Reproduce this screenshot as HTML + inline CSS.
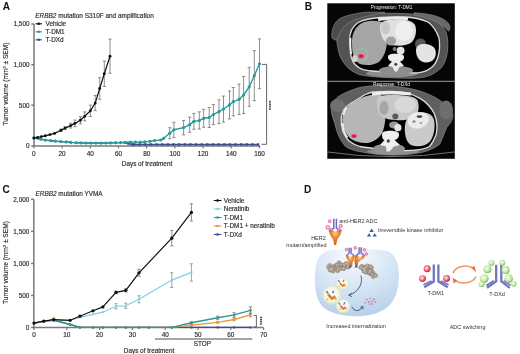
<!DOCTYPE html>
<html><head><meta charset="utf-8"><style>html,body{margin:0;padding:0;background:#fff;width:520px;height:354px;overflow:hidden}svg{display:block;filter:blur(0.3px)}text:not([fill]){stroke:#2a2a2a;stroke-width:0.15px}</style></head><body>
<svg width="520" height="354" viewBox="0 0 520 354" font-family='"Liberation Sans", Arial, sans-serif' fill="#2a2a2a">
<rect width="520" height="354" fill="#fff"/>
<text x="2.8" y="9.5" font-size="10.1" font-weight="bold" fill="#111">A</text>
<text x="304.7" y="9.6" font-size="10.1" font-weight="bold" fill="#111">B</text>
<text x="2.6" y="193.3" font-size="10.1" font-weight="bold" fill="#111">C</text>
<text x="304.0" y="192.8" font-size="10.1" font-weight="bold" fill="#111">D</text>
<path d="M34 24V147M31.3 24H34M31.3 64.7H34M31.3 105.3H34M31.3 146H34" stroke="#7a7a7a" stroke-width="1.5" fill="none"/>
<path d="M33.3 146H260.2" stroke="#7a7a7a" stroke-width="1.5" fill="none"/>
<path d="M33.9 146V148.6M62.1 146V148.6M90.3 146V148.6M118.5 146V148.6M146.7 146V148.6M174.9 146V148.6M203.1 146V148.6M231.3 146V148.6M259.5 146V148.6" stroke="#7a7a7a" stroke-width="1.2" fill="none"/>
<text x="29.5" y="148.2" text-anchor="end" font-size="6.4">0</text>
<text x="29.5" y="107.5" text-anchor="end" font-size="6.4">500</text>
<text x="29.5" y="66.9" text-anchor="end" font-size="6.4">1,000</text>
<text x="29.5" y="26.2" text-anchor="end" font-size="6.4">1,500</text>
<text x="33.9" y="156" text-anchor="middle" font-size="6.4">0</text>
<text x="62.1" y="156" text-anchor="middle" font-size="6.4">20</text>
<text x="90.3" y="156" text-anchor="middle" font-size="6.4">40</text>
<text x="118.5" y="156" text-anchor="middle" font-size="6.4">60</text>
<text x="146.7" y="156" text-anchor="middle" font-size="6.4">80</text>
<text x="174.9" y="156" text-anchor="middle" font-size="6.4">100</text>
<text x="203.1" y="156" text-anchor="middle" font-size="6.4">120</text>
<text x="231.3" y="156" text-anchor="middle" font-size="6.4">140</text>
<text x="259.5" y="156" text-anchor="middle" font-size="6.4">160</text>
<text x="147" y="165.8" text-anchor="middle" font-size="6.4">Days of treatment</text>
<text transform="translate(8.3 84) rotate(-90)" text-anchor="middle" font-size="6.6">Tumor volume (mm<tspan font-size="4" dy="-2">3</tspan><tspan dy="2"> ± SEM)</tspan></text>
<text x="35.3" y="18" font-size="6.45"><tspan font-style="italic">ERBB2</tspan> mutation S310F and amplification</text>
<path d="M35.5 23.8H42" stroke="#111" stroke-width="1.1"/>
<circle cx="38.7" cy="23.8" r="1.3" fill="#111"/>
<text x="45.5" y="26.1" font-size="6.4">Vehicle</text>
<path d="M35.5 31.8H42" stroke="#299a9a" stroke-width="1.1"/>
<circle cx="38.7" cy="31.8" r="1.3" fill="#299a9a"/>
<text x="45.5" y="34.1" font-size="6.4">T-DM1</text>
<path d="M35.5 39.8H42" stroke="#3d4e8e" stroke-width="1.1"/>
<circle cx="38.7" cy="39.8" r="1.3" fill="#3d4e8e"/>
<text x="45.5" y="42.1" font-size="6.4">T-DXd</text>
<polyline points="33.9,138.1 40.8,139.2 45.5,140.1 50.8,140.7 55.3,141.2 60.8,141.6 66.2,141.9 70.8,142.4 76.2,142.7 81.1,142.9 86.1,143.0 91.0,143.1 95.9,143.1 100.9,143.1 105.8,143.0 110.7,142.9 115.7,142.7 120.6,142.7 124.8,142.7 128.4,143.6 131.9,144.4 134.0,144.5 139.7,144.5 145.3,144.5 150.9,144.5 156.6,144.5 162.2,144.5 167.8,144.5 173.5,144.5 179.1,144.5 184.8,144.5 190.4,144.5 196.0,144.5 201.7,144.5 207.3,144.5 213.0,144.5 218.6,144.5 224.2,144.5 229.9,144.5 235.5,144.5 241.2,144.5 246.8,144.5 252.4,144.5 258.1,144.5" fill="none" stroke="#3d4e8e" stroke-width="1.3" stroke-linejoin="round"/>
<rect x="123.6" y="141.5" width="2.4" height="2.4" fill="#3d4e8e"/>
<rect x="127.2" y="142.4" width="2.4" height="2.4" fill="#3d4e8e"/>
<rect x="130.7" y="143.2" width="2.4" height="2.4" fill="#3d4e8e"/>
<rect x="132.8" y="143.3" width="2.4" height="2.4" fill="#3d4e8e"/>
<rect x="138.5" y="143.3" width="2.4" height="2.4" fill="#3d4e8e"/>
<rect x="144.1" y="143.3" width="2.4" height="2.4" fill="#3d4e8e"/>
<rect x="149.7" y="143.3" width="2.4" height="2.4" fill="#3d4e8e"/>
<rect x="155.4" y="143.3" width="2.4" height="2.4" fill="#3d4e8e"/>
<rect x="161.0" y="143.3" width="2.4" height="2.4" fill="#3d4e8e"/>
<rect x="166.7" y="143.3" width="2.4" height="2.4" fill="#3d4e8e"/>
<rect x="172.3" y="143.3" width="2.4" height="2.4" fill="#3d4e8e"/>
<rect x="177.9" y="143.3" width="2.4" height="2.4" fill="#3d4e8e"/>
<rect x="183.6" y="143.3" width="2.4" height="2.4" fill="#3d4e8e"/>
<rect x="189.2" y="143.3" width="2.4" height="2.4" fill="#3d4e8e"/>
<rect x="194.8" y="143.3" width="2.4" height="2.4" fill="#3d4e8e"/>
<rect x="200.5" y="143.3" width="2.4" height="2.4" fill="#3d4e8e"/>
<rect x="206.1" y="143.3" width="2.4" height="2.4" fill="#3d4e8e"/>
<rect x="211.8" y="143.3" width="2.4" height="2.4" fill="#3d4e8e"/>
<rect x="217.4" y="143.3" width="2.4" height="2.4" fill="#3d4e8e"/>
<rect x="223.1" y="143.3" width="2.4" height="2.4" fill="#3d4e8e"/>
<rect x="228.7" y="143.3" width="2.4" height="2.4" fill="#3d4e8e"/>
<rect x="234.3" y="143.3" width="2.4" height="2.4" fill="#3d4e8e"/>
<rect x="240.0" y="143.3" width="2.4" height="2.4" fill="#3d4e8e"/>
<rect x="245.6" y="143.3" width="2.4" height="2.4" fill="#3d4e8e"/>
<rect x="251.2" y="143.3" width="2.4" height="2.4" fill="#3d4e8e"/>
<rect x="256.9" y="143.3" width="2.4" height="2.4" fill="#3d4e8e"/>
<path d="M169.8 127.7V138.8M168.2 127.7h3.2M168.2 138.8h3.2" stroke="#6a6a6a" stroke-width="0.75" fill="none"/>
<path d="M173.9 122.3V137.4M172.3 122.3h3.2M172.3 137.4h3.2" stroke="#6a6a6a" stroke-width="0.75" fill="none"/>
<path d="M183.6 120.4V134.9M182.0 120.4h3.2M182.0 134.9h3.2" stroke="#6a6a6a" stroke-width="0.75" fill="none"/>
<path d="M189.7 117.1V132.3M188.1 117.1h3.2M188.1 132.3h3.2" stroke="#6a6a6a" stroke-width="0.75" fill="none"/>
<path d="M193.9 113.4V129.3M192.3 113.4h3.2M192.3 129.3h3.2" stroke="#6a6a6a" stroke-width="0.75" fill="none"/>
<path d="M199.3 111.9V129.0M197.7 111.9h3.2M197.7 129.0h3.2" stroke="#6a6a6a" stroke-width="0.75" fill="none"/>
<path d="M203.7 109.3V127.2M202.1 109.3h3.2M202.1 127.2h3.2" stroke="#6a6a6a" stroke-width="0.75" fill="none"/>
<path d="M209.2 107.5V127.5M207.6 107.5h3.2M207.6 127.5h3.2" stroke="#6a6a6a" stroke-width="0.75" fill="none"/>
<path d="M213.4 104.6V124.6M211.8 104.6h3.2M211.8 124.6h3.2" stroke="#6a6a6a" stroke-width="0.75" fill="none"/>
<path d="M219.0 99.8V123.6M217.4 99.8h3.2M217.4 123.6h3.2" stroke="#6a6a6a" stroke-width="0.75" fill="none"/>
<path d="M223.5 96.0V122.0M221.9 96.0h3.2M221.9 122.0h3.2" stroke="#6a6a6a" stroke-width="0.75" fill="none"/>
<path d="M229.5 91.0V118.9M227.9 91.0h3.2M227.9 118.9h3.2" stroke="#6a6a6a" stroke-width="0.75" fill="none"/>
<path d="M233.3 87.5V115.9M231.7 87.5h3.2M231.7 115.9h3.2" stroke="#6a6a6a" stroke-width="0.75" fill="none"/>
<path d="M239.1 84.1V114.5M237.5 84.1h3.2M237.5 114.5h3.2" stroke="#6a6a6a" stroke-width="0.75" fill="none"/>
<path d="M243.6 76.4V113.6M242.0 76.4h3.2M242.0 113.6h3.2" stroke="#6a6a6a" stroke-width="0.75" fill="none"/>
<path d="M249.2 67.3V106.3M247.6 67.3h3.2M247.6 106.3h3.2" stroke="#6a6a6a" stroke-width="0.75" fill="none"/>
<path d="M254.3 50.6V100.7M252.7 50.6h3.2M252.7 100.7h3.2" stroke="#6a6a6a" stroke-width="0.75" fill="none"/>
<path d="M259.5 38.9V88.7M257.9 38.9h3.2M257.9 88.7h3.2" stroke="#6a6a6a" stroke-width="0.75" fill="none"/>
<polyline points="33.9,138.1 40.8,139.2 45.5,140.1 50.8,140.7 55.3,141.2 60.8,141.6 66.2,141.9 70.8,142.4 76.2,142.7 81.1,142.9 86.1,143.0 91.0,143.1 95.9,143.1 100.9,143.1 105.8,143.0 110.7,142.9 115.7,142.7 120.6,142.6 125.5,142.3 130.5,142.1 135.4,142.1 140.4,142.2 144.6,141.9 149.9,141.3 154.7,140.6 160.8,140.0 163.6,138.3 169.8,133.2 173.9,129.8 183.6,127.6 189.7,124.7 193.9,121.4 199.3,120.5 203.7,118.3 209.2,117.5 213.4,114.6 219.0,111.7 223.5,109.0 229.5,104.9 233.3,101.7 239.1,99.3 243.6,95.0 249.2,86.8 254.3,75.7 259.5,63.8" fill="none" stroke="#299a9a" stroke-width="1.4" stroke-linejoin="round"/>
<circle cx="33.9" cy="138.1" r="1.6" fill="#299a9a"/>
<circle cx="40.8" cy="139.2" r="1.6" fill="#299a9a"/>
<circle cx="45.5" cy="140.1" r="1.6" fill="#299a9a"/>
<circle cx="50.8" cy="140.7" r="1.6" fill="#299a9a"/>
<circle cx="55.3" cy="141.2" r="1.6" fill="#299a9a"/>
<circle cx="60.8" cy="141.6" r="1.6" fill="#299a9a"/>
<circle cx="66.2" cy="141.9" r="1.6" fill="#299a9a"/>
<circle cx="70.8" cy="142.4" r="1.6" fill="#299a9a"/>
<circle cx="76.2" cy="142.7" r="1.6" fill="#299a9a"/>
<circle cx="81.1" cy="142.9" r="1.6" fill="#299a9a"/>
<circle cx="86.1" cy="143.0" r="1.6" fill="#299a9a"/>
<circle cx="91.0" cy="143.1" r="1.6" fill="#299a9a"/>
<circle cx="95.9" cy="143.1" r="1.6" fill="#299a9a"/>
<circle cx="100.9" cy="143.1" r="1.6" fill="#299a9a"/>
<circle cx="105.8" cy="143.0" r="1.6" fill="#299a9a"/>
<circle cx="110.7" cy="142.9" r="1.6" fill="#299a9a"/>
<circle cx="115.7" cy="142.7" r="1.6" fill="#299a9a"/>
<circle cx="120.6" cy="142.6" r="1.6" fill="#299a9a"/>
<circle cx="125.5" cy="142.3" r="1.6" fill="#299a9a"/>
<circle cx="130.5" cy="142.1" r="1.6" fill="#299a9a"/>
<circle cx="135.4" cy="142.1" r="1.6" fill="#299a9a"/>
<circle cx="140.4" cy="142.2" r="1.6" fill="#299a9a"/>
<circle cx="144.6" cy="141.9" r="1.6" fill="#299a9a"/>
<circle cx="149.9" cy="141.3" r="1.6" fill="#299a9a"/>
<circle cx="154.7" cy="140.6" r="1.6" fill="#299a9a"/>
<circle cx="160.8" cy="140.0" r="1.6" fill="#299a9a"/>
<circle cx="163.6" cy="138.3" r="1.6" fill="#299a9a"/>
<circle cx="169.8" cy="133.2" r="1.6" fill="#299a9a"/>
<circle cx="173.9" cy="129.8" r="1.6" fill="#299a9a"/>
<circle cx="183.6" cy="127.6" r="1.6" fill="#299a9a"/>
<circle cx="189.7" cy="124.7" r="1.6" fill="#299a9a"/>
<circle cx="193.9" cy="121.4" r="1.6" fill="#299a9a"/>
<circle cx="199.3" cy="120.5" r="1.6" fill="#299a9a"/>
<circle cx="203.7" cy="118.3" r="1.6" fill="#299a9a"/>
<circle cx="209.2" cy="117.5" r="1.6" fill="#299a9a"/>
<circle cx="213.4" cy="114.6" r="1.6" fill="#299a9a"/>
<circle cx="219.0" cy="111.7" r="1.6" fill="#299a9a"/>
<circle cx="223.5" cy="109.0" r="1.6" fill="#299a9a"/>
<circle cx="229.5" cy="104.9" r="1.6" fill="#299a9a"/>
<circle cx="233.3" cy="101.7" r="1.6" fill="#299a9a"/>
<circle cx="239.1" cy="99.3" r="1.6" fill="#299a9a"/>
<circle cx="243.6" cy="95.0" r="1.6" fill="#299a9a"/>
<circle cx="249.2" cy="86.8" r="1.6" fill="#299a9a"/>
<circle cx="254.3" cy="75.7" r="1.6" fill="#299a9a"/>
<circle cx="259.5" cy="63.8" r="1.6" fill="#299a9a"/>
<path d="M61.0 129.2V131.4M59.4 129.2h3.2M59.4 131.4h3.2" stroke="#6a6a6a" stroke-width="0.75" fill="none"/>
<path d="M65.1 126.7V129.6M63.5 126.7h3.2M63.5 129.6h3.2" stroke="#6a6a6a" stroke-width="0.75" fill="none"/>
<path d="M70.7 123.2V128.0M69.1 123.2h3.2M69.1 128.0h3.2" stroke="#6a6a6a" stroke-width="0.75" fill="none"/>
<path d="M74.9 120.1V126.7M73.3 120.1h3.2M73.3 126.7h3.2" stroke="#6a6a6a" stroke-width="0.75" fill="none"/>
<path d="M80.4 116.6V123.9M78.8 116.6h3.2M78.8 123.9h3.2" stroke="#6a6a6a" stroke-width="0.75" fill="none"/>
<path d="M84.7 111.9V120.8M83.1 111.9h3.2M83.1 120.8h3.2" stroke="#6a6a6a" stroke-width="0.75" fill="none"/>
<path d="M90.4 105.1V116.5M88.8 105.1h3.2M88.8 116.5h3.2" stroke="#6a6a6a" stroke-width="0.75" fill="none"/>
<path d="M95.2 95.4V110.7M93.6 95.4h3.2M93.6 110.7h3.2" stroke="#6a6a6a" stroke-width="0.75" fill="none"/>
<path d="M99.7 77.7V99.3M98.1 77.7h3.2M98.1 99.3h3.2" stroke="#6a6a6a" stroke-width="0.75" fill="none"/>
<path d="M104.3 61.1V86.5M102.7 61.1h3.2M102.7 86.5h3.2" stroke="#6a6a6a" stroke-width="0.75" fill="none"/>
<path d="M110.0 39.1V73.2M108.4 39.1h3.2M108.4 73.2h3.2" stroke="#6a6a6a" stroke-width="0.75" fill="none"/>
<polyline points="33.9,138.0 37.6,137.5 41.4,136.6 45.3,135.8 50.0,134.6 54.6,133.4 61.0,130.3 65.1,128.1 70.7,125.6 74.9,123.4 80.4,120.2 84.7,116.3 90.4,110.8 95.2,103.1 99.7,88.5 104.3,73.8 110.0,56.2" fill="none" stroke="#111" stroke-width="1.2" stroke-linejoin="round"/>
<circle cx="33.9" cy="138.0" r="1.45" fill="#111"/>
<circle cx="37.6" cy="137.5" r="1.45" fill="#111"/>
<circle cx="41.4" cy="136.6" r="1.45" fill="#111"/>
<circle cx="45.3" cy="135.8" r="1.45" fill="#111"/>
<circle cx="50.0" cy="134.6" r="1.45" fill="#111"/>
<circle cx="54.6" cy="133.4" r="1.45" fill="#111"/>
<circle cx="61.0" cy="130.3" r="1.45" fill="#111"/>
<circle cx="65.1" cy="128.1" r="1.45" fill="#111"/>
<circle cx="70.7" cy="125.6" r="1.45" fill="#111"/>
<circle cx="74.9" cy="123.4" r="1.45" fill="#111"/>
<circle cx="80.4" cy="120.2" r="1.45" fill="#111"/>
<circle cx="84.7" cy="116.3" r="1.45" fill="#111"/>
<circle cx="90.4" cy="110.8" r="1.45" fill="#111"/>
<circle cx="95.2" cy="103.1" r="1.45" fill="#111"/>
<circle cx="99.7" cy="88.5" r="1.45" fill="#111"/>
<circle cx="104.3" cy="73.8" r="1.45" fill="#111"/>
<circle cx="110.0" cy="56.2" r="1.45" fill="#111"/>
<path d="M262 64.4H266.6V144.3H261.5" stroke="#555" stroke-width="0.9" fill="none"/>
<text transform="translate(266.6 105.3) rotate(90)" text-anchor="middle" font-size="6.2" font-weight="bold" fill="#222">****</text>
<path d="M33.8 199.3V328.2M31.1 199.3H33.8M31.1 231.3H33.8M31.1 263.4H33.8M31.1 295.4H33.8M31.1 327.4H33.8" stroke="#7a7a7a" stroke-width="1.5" fill="none"/>
<path d="M33.1 327.4H263.5" stroke="#7a7a7a" stroke-width="1.5" fill="none"/>
<path d="M34.0 327.4V330M66.8 327.4V330M99.6 327.4V330M132.4 327.4V330M165.2 327.4V330M198.0 327.4V330M230.8 327.4V330M263.6 327.4V330" stroke="#7a7a7a" stroke-width="1.2" fill="none"/>
<text x="29.3" y="329.6" text-anchor="end" font-size="6.4">0</text>
<text x="29.3" y="297.6" text-anchor="end" font-size="6.4">500</text>
<text x="29.3" y="265.6" text-anchor="end" font-size="6.4">1,000</text>
<text x="29.3" y="233.6" text-anchor="end" font-size="6.4">1,500</text>
<text x="29.3" y="201.6" text-anchor="end" font-size="6.4">2,000</text>
<text x="34.0" y="337" text-anchor="middle" font-size="6.4">0</text>
<text x="66.8" y="337" text-anchor="middle" font-size="6.4">10</text>
<text x="99.6" y="337" text-anchor="middle" font-size="6.4">20</text>
<text x="132.4" y="337" text-anchor="middle" font-size="6.4">30</text>
<text x="165.2" y="337" text-anchor="middle" font-size="6.4">40</text>
<text x="198.0" y="337" text-anchor="middle" font-size="6.4">50</text>
<text x="230.8" y="337" text-anchor="middle" font-size="6.4">60</text>
<text x="263.6" y="337" text-anchor="middle" font-size="6.4">70</text>
<text x="149" y="352.5" text-anchor="middle" font-size="6.4">Days of treatment</text>
<path d="M155 339.1H252.3" stroke="#888" stroke-width="1.5"/>
<text x="202.3" y="346.1" text-anchor="middle" font-size="6.4">STOP</text>
<text transform="translate(8.4 262.6) rotate(-90)" text-anchor="middle" font-size="6.6">Tumor volume (mm<tspan font-size="4" dy="-2">3</tspan><tspan dy="2"> ± SEM)</tspan></text>
<text x="35.6" y="196.2" font-size="6.4"><tspan font-style="italic">ERBB2</tspan> mutation YVMA</text>
<path d="M213.8 200.5H221.5" stroke="#111" stroke-width="1.1"/>
<circle cx="217.6" cy="200.5" r="1.3" fill="#111"/>
<text x="223.8" y="202.8" font-size="6.4">Vehicle</text>
<path d="M213.8 209.0H221.5" stroke="#86cfe0" stroke-width="1.1"/>
<circle cx="217.6" cy="209.0" r="1.3" fill="#86cfe0"/>
<text x="223.8" y="211.3" font-size="6.4">Neratinib</text>
<path d="M213.8 217.5H221.5" stroke="#299a9a" stroke-width="1.1"/>
<circle cx="217.6" cy="217.5" r="1.3" fill="#299a9a"/>
<text x="223.8" y="219.8" font-size="6.4">T-DM1</text>
<path d="M213.8 226.0H221.5" stroke="#ea9a3c" stroke-width="1.1"/>
<circle cx="217.6" cy="226.0" r="1.3" fill="#ea9a3c"/>
<text x="223.8" y="228.3" font-size="6.4">T-DM1 + neratinib</text>
<path d="M213.8 234.5H221.5" stroke="#3d4e8e" stroke-width="1.1"/>
<circle cx="217.6" cy="234.5" r="1.3" fill="#3d4e8e"/>
<text x="223.8" y="236.8" font-size="6.4">T-DXd</text>
<polyline points="34.0,323.1 43.8,321.2 53.7,320.2 70.1,324.4 79.9,327.4 93.0,327.4 102.9,327.4 116.0,327.4 125.8,327.4 139.0,327.4 148.8,327.4 171.8,327.4 191.4,327.4 217.7,327.4 234.1,327.4 250.5,327.4" fill="none" stroke="#3d4e8e" stroke-width="1.3" stroke-linejoin="round"/>
<circle cx="34.0" cy="323.1" r="1.2" fill="#3d4e8e"/>
<circle cx="43.8" cy="321.2" r="1.2" fill="#3d4e8e"/>
<circle cx="53.7" cy="320.2" r="1.2" fill="#3d4e8e"/>
<circle cx="70.1" cy="324.4" r="1.2" fill="#3d4e8e"/>
<circle cx="79.9" cy="327.4" r="1.2" fill="#3d4e8e"/>
<circle cx="93.0" cy="327.4" r="1.2" fill="#3d4e8e"/>
<circle cx="102.9" cy="327.4" r="1.2" fill="#3d4e8e"/>
<circle cx="116.0" cy="327.4" r="1.2" fill="#3d4e8e"/>
<circle cx="125.8" cy="327.4" r="1.2" fill="#3d4e8e"/>
<circle cx="139.0" cy="327.4" r="1.2" fill="#3d4e8e"/>
<circle cx="148.8" cy="327.4" r="1.2" fill="#3d4e8e"/>
<circle cx="171.8" cy="327.4" r="1.2" fill="#3d4e8e"/>
<circle cx="191.4" cy="327.4" r="1.2" fill="#3d4e8e"/>
<circle cx="217.7" cy="327.4" r="1.2" fill="#3d4e8e"/>
<circle cx="234.1" cy="327.4" r="1.2" fill="#3d4e8e"/>
<circle cx="250.5" cy="327.4" r="1.2" fill="#3d4e8e"/>
<path d="M191.4 324.5V325.7M189.8 324.5h3.2M189.8 325.7h3.2" stroke="#b07a40" stroke-width="0.75" fill="none"/>
<path d="M217.7 321.3V323.2M216.1 321.3h3.2M216.1 323.2h3.2" stroke="#b07a40" stroke-width="0.75" fill="none"/>
<path d="M234.1 318.2V320.8M232.5 318.2h3.2M232.5 320.8h3.2" stroke="#b07a40" stroke-width="0.75" fill="none"/>
<path d="M250.5 313.0V316.8M248.9 313.0h3.2M248.9 316.8h3.2" stroke="#b07a40" stroke-width="0.75" fill="none"/>
<circle cx="53.7" cy="318.4" r="2.2" fill="#f6d890"/>
<polyline points="34.0,323.1 43.8,321.2 53.7,320.2 70.1,324.5 79.9,327.4 93.0,327.4 102.9,327.4 116.0,327.4 125.8,327.4 139.0,327.4 148.8,327.4 171.8,327.4 191.4,325.1 217.7,322.3 234.1,319.5 250.5,314.9" fill="none" stroke="#ea9a3c" stroke-width="1.3" stroke-linejoin="round"/>
<circle cx="34.0" cy="323.1" r="1.2" fill="#ea9a3c"/>
<circle cx="43.8" cy="321.2" r="1.2" fill="#ea9a3c"/>
<circle cx="53.7" cy="320.2" r="1.2" fill="#ea9a3c"/>
<circle cx="70.1" cy="324.5" r="1.2" fill="#ea9a3c"/>
<circle cx="79.9" cy="327.4" r="1.2" fill="#ea9a3c"/>
<circle cx="93.0" cy="327.4" r="1.2" fill="#ea9a3c"/>
<circle cx="102.9" cy="327.4" r="1.2" fill="#ea9a3c"/>
<circle cx="116.0" cy="327.4" r="1.2" fill="#ea9a3c"/>
<circle cx="125.8" cy="327.4" r="1.2" fill="#ea9a3c"/>
<circle cx="139.0" cy="327.4" r="1.2" fill="#ea9a3c"/>
<circle cx="148.8" cy="327.4" r="1.2" fill="#ea9a3c"/>
<circle cx="171.8" cy="327.4" r="1.2" fill="#ea9a3c"/>
<circle cx="191.4" cy="325.1" r="1.2" fill="#ea9a3c"/>
<circle cx="217.7" cy="322.3" r="1.2" fill="#ea9a3c"/>
<circle cx="234.1" cy="319.5" r="1.2" fill="#ea9a3c"/>
<circle cx="250.5" cy="314.9" r="1.2" fill="#ea9a3c"/>
<path d="M191.4 321.8V323.8M189.8 321.8h3.2M189.8 323.8h3.2" stroke="#6a6a6a" stroke-width="0.75" fill="none"/>
<path d="M217.7 316.1V319.3M216.1 316.1h3.2M216.1 319.3h3.2" stroke="#6a6a6a" stroke-width="0.75" fill="none"/>
<path d="M234.1 312.7V317.2M232.5 312.7h3.2M232.5 317.2h3.2" stroke="#6a6a6a" stroke-width="0.75" fill="none"/>
<path d="M250.5 306.8V313.8M248.9 306.8h3.2M248.9 313.8h3.2" stroke="#6a6a6a" stroke-width="0.75" fill="none"/>
<polyline points="34.0,323.1 43.8,321.2 53.7,320.2 70.1,324.5 79.9,327.4 93.0,327.4 102.9,327.4 116.0,327.4 125.8,327.4 139.0,327.4 148.8,327.4 171.8,327.4 191.4,322.8 217.7,317.7 234.1,314.9 250.5,310.3" fill="none" stroke="#299a9a" stroke-width="1.4" stroke-linejoin="round"/>
<circle cx="34.0" cy="323.1" r="1.25" fill="#299a9a"/>
<circle cx="43.8" cy="321.2" r="1.25" fill="#299a9a"/>
<circle cx="53.7" cy="320.2" r="1.25" fill="#299a9a"/>
<circle cx="70.1" cy="324.5" r="1.25" fill="#299a9a"/>
<circle cx="79.9" cy="327.4" r="1.25" fill="#299a9a"/>
<circle cx="93.0" cy="327.4" r="1.25" fill="#299a9a"/>
<circle cx="102.9" cy="327.4" r="1.25" fill="#299a9a"/>
<circle cx="116.0" cy="327.4" r="1.25" fill="#299a9a"/>
<circle cx="125.8" cy="327.4" r="1.25" fill="#299a9a"/>
<circle cx="139.0" cy="327.4" r="1.25" fill="#299a9a"/>
<circle cx="148.8" cy="327.4" r="1.25" fill="#299a9a"/>
<circle cx="171.8" cy="327.4" r="1.25" fill="#299a9a"/>
<circle cx="191.4" cy="322.8" r="1.25" fill="#299a9a"/>
<circle cx="217.7" cy="317.7" r="1.25" fill="#299a9a"/>
<circle cx="234.1" cy="314.9" r="1.25" fill="#299a9a"/>
<circle cx="250.5" cy="310.3" r="1.25" fill="#299a9a"/>
<path d="M116.0 303.7V308.8M114.4 303.7h3.2M114.4 308.8h3.2" stroke="#6f8c98" stroke-width="0.75" fill="none"/>
<path d="M125.8 303.2V308.3M124.2 303.2h3.2M124.2 308.3h3.2" stroke="#6f8c98" stroke-width="0.75" fill="none"/>
<path d="M139.0 295.8V302.8M137.4 295.8h3.2M137.4 302.8h3.2" stroke="#6f8c98" stroke-width="0.75" fill="none"/>
<path d="M171.8 272.7V287.5M170.2 272.7h3.2M170.2 287.5h3.2" stroke="#6f8c98" stroke-width="0.75" fill="none"/>
<path d="M191.4 263.8V281.1M189.8 263.8h3.2M189.8 281.1h3.2" stroke="#6f8c98" stroke-width="0.75" fill="none"/>
<polyline points="34.0,323.1 43.8,321.2 53.7,320.0 70.1,320.3 79.9,317.3 93.0,314.3 102.9,312.2 116.0,306.2 125.8,305.8 139.0,299.3 171.8,280.1 191.4,272.4" fill="none" stroke="#86cfe0" stroke-width="1.2" stroke-linejoin="round"/>
<circle cx="34.0" cy="323.1" r="1.1" fill="#86cfe0"/>
<circle cx="43.8" cy="321.2" r="1.1" fill="#86cfe0"/>
<circle cx="53.7" cy="320.0" r="1.1" fill="#86cfe0"/>
<circle cx="70.1" cy="320.3" r="1.1" fill="#86cfe0"/>
<circle cx="79.9" cy="317.3" r="1.1" fill="#86cfe0"/>
<circle cx="93.0" cy="314.3" r="1.1" fill="#86cfe0"/>
<circle cx="102.9" cy="312.2" r="1.1" fill="#86cfe0"/>
<circle cx="116.0" cy="306.2" r="1.1" fill="#86cfe0"/>
<circle cx="125.8" cy="305.8" r="1.1" fill="#86cfe0"/>
<circle cx="139.0" cy="299.3" r="1.1" fill="#86cfe0"/>
<circle cx="171.8" cy="280.1" r="1.1" fill="#86cfe0"/>
<circle cx="191.4" cy="272.4" r="1.1" fill="#86cfe0"/>
<path d="M116.0 291.1V293.7M114.4 291.1h3.2M114.4 293.7h3.2" stroke="#6a6a6a" stroke-width="0.75" fill="none"/>
<path d="M125.8 288.7V291.9M124.2 288.7h3.2M124.2 291.9h3.2" stroke="#6a6a6a" stroke-width="0.75" fill="none"/>
<path d="M139.0 269.3V276.3M137.4 269.3h3.2M137.4 276.3h3.2" stroke="#6a6a6a" stroke-width="0.75" fill="none"/>
<path d="M171.8 230.5V245.9M170.2 230.5h3.2M170.2 245.9h3.2" stroke="#6a6a6a" stroke-width="0.75" fill="none"/>
<path d="M191.4 203.8V221.0M189.8 203.8h3.2M189.8 221.0h3.2" stroke="#6a6a6a" stroke-width="0.75" fill="none"/>
<polyline points="34.0,323.1 43.8,321.2 53.7,319.6 70.1,320.3 79.9,316.2 93.0,310.8 102.9,306.9 116.0,292.4 125.8,290.3 139.0,272.8 171.8,238.2 191.4,212.4" fill="none" stroke="#111" stroke-width="1.2" stroke-linejoin="round"/>
<circle cx="34.0" cy="323.1" r="1.65" fill="#111"/>
<circle cx="43.8" cy="321.2" r="1.65" fill="#111"/>
<circle cx="53.7" cy="319.6" r="1.65" fill="#111"/>
<circle cx="70.1" cy="320.3" r="1.65" fill="#111"/>
<circle cx="79.9" cy="316.2" r="1.65" fill="#111"/>
<circle cx="93.0" cy="310.8" r="1.65" fill="#111"/>
<circle cx="102.9" cy="306.9" r="1.65" fill="#111"/>
<circle cx="116.0" cy="292.4" r="1.65" fill="#111"/>
<circle cx="125.8" cy="290.3" r="1.65" fill="#111"/>
<circle cx="139.0" cy="272.8" r="1.65" fill="#111"/>
<circle cx="171.8" cy="238.2" r="1.65" fill="#111"/>
<circle cx="191.4" cy="212.4" r="1.65" fill="#111"/>
<path d="M253.5 315.4H256.4V326.9H253.5" stroke="#555" stroke-width="0.9" fill="none"/>
<text transform="translate(257.9 320.6) rotate(90)" text-anchor="middle" font-size="5.6" font-weight="bold" fill="#222">****</text>
<defs><clipPath id="ct1"><rect x="327.3" y="3.3" width="127.5" height="77.5"/></clipPath><clipPath id="ct2"><rect x="327.3" y="81.9" width="127.5" height="76.9"/></clipPath><filter id="bl" x="-5%" y="-5%" width="110%" height="110%"><feGaussianBlur stdDeviation="0.55"/></filter><radialGradient id="lesg" cx="0.45" cy="0.55" r="0.55"><stop offset="0" stop-color="#b8103c"/><stop offset="0.55" stop-color="#d8305a"/><stop offset="1" stop-color="#f090a8"/></radialGradient><filter id="bl2" x="-50%" y="-50%" width="200%" height="200%"><feGaussianBlur stdDeviation="1.2"/></filter></defs>
<rect x="327.3" y="3.3" width="127.5" height="155.5" fill="#060606"/>
<g clip-path="url(#ct1)"><g filter="url(#bl)"><path d="M336.9,41.6 C336,36 337,30 341,25 C347,19 356,15.5 366,14 C375,13 385,13.3 392,13.3 C405,13.2 418,14 428,17 C436,20 443,25 446,32 C448,37 448,45 447.6,50 C447,57 445,63 441.7,67.3 C437,72 431.8,75.3 425,77 C416,78.6 405,78.4 392,77.8 C380,77.4 367,76.5 360,74.8 C352,72 348,68 345.8,65.4 C342,61 340.5,57 339.8,55.5 C338,50 337.5,46 336.9,41.6 Z" fill="#525252" stroke="#9a9a9a" stroke-width="0.6"/><path d="M332,38 C331,30 334,22 340,18.5 C347,15 355,13.5 366,12.2 C372,12 378,12 385,12.4 C375,14.5 362,16.5 352,21 C344,25.5 339.5,31 337.2,40 C335.5,40.2 333.2,39.6 332,38 Z" fill="#4c4c4c" stroke="#8a8a8a" stroke-width="0.6"/><path d="M414,12.8 C425,13.2 435,15 442,18.5 C447,21 450.2,24.5 450,27.5 C449.8,29.5 449.3,30.8 448.4,31.2 C446,28 442,25 437,22.5 C430,19 422,16.5 414,15.2 Z" fill="#686868" stroke="#8a8a8a" stroke-width="0.6"/><ellipse cx="392" cy="73.5" rx="26" ry="4" fill="#8c8c8c"/><path d="M349.7,40 C349.5,32 353,26 358,22.5 C364,19.5 372,18 380,17.5 C388,17 396,16.8 405,17 C414,17.5 422,19.5 428,22 C433,25.5 436.8,31.8 439,38 C440,44 439.5,52 437.8,57.5 C436,63 433.5,66 431.8,67.3 C428,70.5 424,72.3 418,72.8 C410,73 400,72.6 392,72.2 C380,71.8 370,71 363,69.6 C356,67.2 352.5,62 351.2,57 C350.2,52 349.8,46 349.7,40 Z" fill="#060606" stroke="#dedede" stroke-width="1.3"/><path d="M352,40 C352.5,31 357,25 364,22 C371,20 379,20.3 384,23 C387,27 387.5,34 387,42 C386.5,50 384,57 379,62 C374,65.3 366,66 360,64 C355.5,61.5 353,56 352.3,50 C352,46 352,43 352,40 Z" fill="#a5a5a5"/><path d="M350.6,38 C350.4,44 350.6,50 351.3,54" stroke="#f2f2f2" stroke-width="1.6" fill="none"/><path d="M380,26 C381,21 387,19.5 395,19.3 C404,19 412,20.5 415,25 C417,30 416,37 412,42 C408,45.5 401,46 395,45.5 C389,45 384,42 382,37 C380.5,33 379.8,29 380,26 Z" fill="#e0e0e0"/><ellipse cx="385.5" cy="28" rx="4.5" ry="6.5" fill="#c8c8c8"/><ellipse cx="404" cy="31" rx="9" ry="10" fill="#efefef"/><ellipse cx="391" cy="41" rx="5" ry="4.5" fill="#a2a2a2"/><path d="M378,19.6 C386,18 398,17.6 408,18.8" stroke="#ececec" stroke-width="3" fill="none"/><circle cx="394.6" cy="49" r="2" fill="#7e7e7e"/><circle cx="400.6" cy="50.6" r="3.9" fill="#e4e4e4"/><ellipse cx="396" cy="70.5" rx="17" ry="4.5" fill="#8e8e8e"/><path d="M388,57 C388,54.2 392,53.8 396,53.8 C400,53.8 404,54.2 404,57 C404,60 402,61 400,61.5 L404,66 L399.5,67 L397.2,71.5 L394.8,71.5 L392.5,67 L388,66 L392,61.5 C390,61 388,60 388,57 Z" fill="#ededed"/><circle cx="395.8" cy="64.2" r="1.5" fill="#444"/><ellipse cx="420.5" cy="44" rx="5.5" ry="5.5" fill="#565656"/><path d="M416,50.5 C416,45.5 420,43.8 425,44 C431,44.4 435.8,47 435.8,53 C435.8,59 432,62.4 426,62.4 C420,62.4 416,57.5 416,50.5 Z" fill="#e4e4e4"/><ellipse cx="355" cy="58.5" rx="2.8" ry="3.5" fill="#d4d4d4"/><circle cx="361.7" cy="54.8" r="6.2" fill="none" stroke="#98d0ae" stroke-width="1.3" opacity="0.45"/><ellipse cx="361.3" cy="55.9" rx="3.6" ry="2.6" fill="url(#lesg)"/></g></g>
<text x="391.5" y="8.9" text-anchor="middle" font-size="4.7" fill="#f2f2f2">Progression: T-DM1</text>
<g clip-path="url(#ct2)"><g filter="url(#bl)"><path d="M326,151.8 Q391,161.5 456,151.8" stroke="#8a8a8a" stroke-width="0.8" fill="none"/><path d="M331,108 C332.5,102 335,98.5 340,95.5 C345,92.5 351.4,90.2 357,88.2 C362,86.8 368,86 376.8,85.7 C382,85.6 387,86 392,86.3 C398,86.6 404,87.4 409.6,88.5 C415,89.6 420,90.8 424,92.4 C430,94.6 435,97 439.7,100.3 C444,103.2 448,106 450.2,108.8 C452,111.5 453,114 452.8,116.6 C452.5,120 450,124 447,127 C445,131 442,140 439.7,144.2 C435,148 429.2,150.7 420,152.8 C409.6,154.4 400,155.2 392,155.2 C380,155 368,153.4 357.7,151.2 C351,149.5 347,148 345,146 C341,141 337.4,134.5 336,128 C334.8,122 331,115 331,108 Z" fill="#5e5e5e" stroke="#9a9a9a" stroke-width="0.6"/><ellipse cx="337.5" cy="105.5" rx="7.5" ry="6.5" fill="#707070"/><ellipse cx="446" cy="110" rx="7" ry="9.5" fill="#6e6e6e"/><ellipse cx="393" cy="151.5" rx="26" ry="3.5" fill="#8c8c8c"/><path d="M341.2,118 C342,112 344,109 346.3,106.7 C349,104 351,103 354,101.6 C358,99 361,97 364,95.2 C368,93.5 370,92.5 373,92 C380,91.4 386,91.4 392,91.5 C398,91.6 403,92.2 407,93 C412,94.5 416,96.2 420,98.3 C424,100.5 426,102.5 428,104.8 C431,108 433,111 434.5,114 C436,118 437,122 437,126 C437,130 436.5,133 436,135 C434.5,139 432.5,143 429.5,146.5 C426,148.5 421,149.6 415,150.2 C410,150.6 404,150.6 398,150.4 C392,150.2 386,149.7 380,149 C373,148.2 366,147.5 360,146.5 C355,145 352,143.5 349,141 C346,138 344.5,135 343,132 C341.8,128 341,123 341.2,118 Z" fill="#060606" stroke="#dedede" stroke-width="1.3"/><path d="M342.2,120 C342.8,111 347,106 354,101.8 C362,96.8 370,93.8 380,94.6 C384,97 385.6,104 385.5,112 C385.4,120 384.8,126 383,131 C380.5,137 376,140.5 369,142.8 C363,143.8 357,142.3 352,139.6 C347.5,136 343.8,131 343,126 Z" fill="#b6b6b6"/><path d="M342.6,123 C342.8,129 344.5,134 347.5,137.5" stroke="#f2f2f2" stroke-width="1.7" fill="none"/><path d="M346.5,107.5 C345,110 344,112.5 343.4,115" stroke="#f2f2f2" stroke-width="1.5" fill="none"/><path d="M377,99 C378,95 385,94.8 394,95 C404,95.2 413,95.8 417,99.5 C419.5,104 419,111 416.5,115.5 C413,119.5 405,120.3 398,120.2 C391,120 385,119 381,116 C377.5,112 376.5,105 377,99 Z" fill="#c8c8c8"/><ellipse cx="405" cy="105" rx="11" ry="8" fill="#d8d8d8"/><ellipse cx="384" cy="108" rx="4.5" ry="7" fill="#a6a6a6"/><ellipse cx="395.3" cy="116.4" rx="3" ry="2.8" fill="#5a5a5a"/><path d="M372,94.2 C381,92.6 396,92.4 411,94" stroke="#eeeeee" stroke-width="3.2" fill="none"/><ellipse cx="394" cy="125" rx="5" ry="3.5" fill="#9a9a9a"/><circle cx="397.9" cy="127.7" r="3.6" fill="#e6e6e6"/><ellipse cx="389" cy="149" rx="16" ry="5.5" fill="#929292"/><path d="M382,134.5 C382,131.5 386,130.8 390.5,130.8 C395,130.8 399,131.5 399,134.5 C399,138 396.5,139.5 394.5,140 L400,145 L394,146.5 L389.5,151.5 L386.5,151.5 L386,146.5 L380,145 L384.5,140 C383,139.5 382,138 382,134.5 Z" fill="#efefef"/><circle cx="388.3" cy="141" r="1.7" fill="#4a4a4a"/><path d="M404.8,128 C404.8,120 409,114 417,112.5 C425,111.5 432,113 434,120 C435.5,127 434,136 430,141.5 C425,146.5 417,147.5 411,145 C406,142 404.8,135 404.8,128 Z" fill="#cacaca"/><path d="M407.5,121 C408,116 412,112.6 418,112.2 C424,112 428.5,114 428.8,118 C429,122.5 425,127 419,128.6 C413,129.4 407.5,126 407.5,121 Z" fill="#ececec"/><ellipse cx="419.5" cy="116.6" rx="3" ry="1.3" fill="#4a4a4a"/><ellipse cx="414" cy="121.5" rx="1.6" ry="1.2" fill="#8a8a8a"/><ellipse cx="421" cy="123" rx="1.4" ry="1" fill="#9a9a9a"/><path d="M350,133 A5.2,5.2 0 0 1 360,133.5" fill="none" stroke="#98d0ae" stroke-width="1.3" opacity="0.45"/><ellipse cx="354.2" cy="135.9" rx="3.2" ry="2.2" fill="url(#lesg)"/></g></g>
<path d="M327.3 81.3H454.8" stroke="#c4c4c4" stroke-width="0.8"/>
<text x="391.5" y="85.5" text-anchor="middle" font-size="4.7" fill="#f2f2f2">Response: T-DXd</text>
<defs><radialGradient id="cellg" cx="0.45" cy="0.1" r="0.98"><stop offset="0" stop-color="#fafcff"/><stop offset="0.3" stop-color="#e4eef9"/><stop offset="0.72" stop-color="#c6dbf0"/><stop offset="1" stop-color="#b2cbe7"/></radialGradient><radialGradient id="vesg" cx="0.5" cy="0.45" r="0.5"><stop offset="0" stop-color="#fefefb"/><stop offset="0.6" stop-color="#f7f9ea"/><stop offset="0.88" stop-color="#e8f2d2"/><stop offset="1" stop-color="#d4e9c8"/></radialGradient><radialGradient id="redg" cx="0.42" cy="0.4" r="0.62"><stop offset="0" stop-color="#fff4f4"/><stop offset="0.35" stop-color="#f6a8b0"/><stop offset="0.7" stop-color="#e2485a"/><stop offset="1" stop-color="#c81c36"/></radialGradient><radialGradient id="grng" cx="0.42" cy="0.4" r="0.62"><stop offset="0" stop-color="#fafef4"/><stop offset="0.5" stop-color="#d2ecb8"/><stop offset="0.8" stop-color="#a2d482"/><stop offset="1" stop-color="#6aae48"/></radialGradient><radialGradient id="orng" cx="0.5" cy="0.25" r="0.7"><stop offset="0" stop-color="#f8d09a"/><stop offset="0.4" stop-color="#ea8c34"/><stop offset="1" stop-color="#d2650f"/></radialGradient><filter id="soft" x="-20%" y="-20%" width="140%" height="140%"><feGaussianBlur stdDeviation="0.3"/></filter><filter id="soft2" x="-20%" y="-20%" width="140%" height="140%"><feGaussianBlur stdDeviation="0.5"/></filter></defs>
<path d="M330,250.2 C345,248.6 370,248.6 385,250.6 C395,253 398.8,262 398.9,275 C399,290 395,302 385,309 C375,315 365,316.2 356,316.2 C345,316.2 332,314 324,308 C316.5,301 314.6,290 314.9,276 C315.2,262 319,252 330,250.2 Z" fill="url(#cellg)" filter="url(#soft)"/>
<g filter="url(#soft)"><ellipse cx="337.8" cy="266.8" rx="10.6" ry="3.5" transform="rotate(-8.0 337.8 266.8)" fill="#a89c8e"/><circle cx="340.9" cy="268.5" r="2.1" fill="#ab9e8f" stroke="#86796c" stroke-width="0.4"/><circle cx="337.6" cy="270.8" r="2.0" fill="#ab9e8f" stroke="#86796c" stroke-width="0.4"/><circle cx="336.8" cy="264.7" r="1.9" fill="#ab9e8f" stroke="#86796c" stroke-width="0.4"/><circle cx="338.9" cy="262.3" r="1.7" fill="#ab9e8f" stroke="#86796c" stroke-width="0.4"/><circle cx="333.3" cy="271.1" r="2.0" fill="#ab9e8f" stroke="#86796c" stroke-width="0.4"/><circle cx="330.4" cy="270.5" r="1.6" fill="#ab9e8f" stroke="#86796c" stroke-width="0.4"/><circle cx="340.0" cy="263.2" r="1.5" fill="#ab9e8f" stroke="#86796c" stroke-width="0.4"/><circle cx="345.9" cy="263.1" r="1.7" fill="#ab9e8f" stroke="#86796c" stroke-width="0.4"/><circle cx="338.9" cy="268.2" r="1.6" fill="#ab9e8f" stroke="#86796c" stroke-width="0.4"/><circle cx="348.1" cy="267.0" r="2.2" fill="#ab9e8f" stroke="#86796c" stroke-width="0.4"/><circle cx="346.5" cy="263.8" r="1.8" fill="#ab9e8f" stroke="#86796c" stroke-width="0.4"/><circle cx="329.8" cy="264.8" r="1.5" fill="#ab9e8f" stroke="#86796c" stroke-width="0.4"/><circle cx="333.4" cy="268.3" r="1.5" fill="#ab9e8f" stroke="#86796c" stroke-width="0.4"/><circle cx="341.7" cy="264.8" r="1.7" fill="#ab9e8f" stroke="#86796c" stroke-width="0.4"/><circle cx="345.0" cy="265.6" r="1.7" fill="#ab9e8f" stroke="#86796c" stroke-width="0.4"/><circle cx="337.6" cy="268.6" r="1.5" fill="#ab9e8f" stroke="#86796c" stroke-width="0.4"/><circle cx="343.9" cy="269.0" r="1.5" fill="#ab9e8f" stroke="#86796c" stroke-width="0.4"/><circle cx="344.2" cy="264.7" r="1.9" fill="#ab9e8f" stroke="#86796c" stroke-width="0.4"/><circle cx="331.2" cy="270.0" r="2.2" fill="#ab9e8f" stroke="#86796c" stroke-width="0.4"/><circle cx="347.7" cy="264.0" r="1.7" fill="#ab9e8f" stroke="#86796c" stroke-width="0.4"/><circle cx="338.7" cy="269.1" r="1.6" fill="#ab9e8f" stroke="#86796c" stroke-width="0.4"/><circle cx="343.8" cy="268.6" r="2.1" fill="#ab9e8f" stroke="#86796c" stroke-width="0.4"/><circle cx="328.3" cy="266.7" r="1.9" fill="#ab9e8f" stroke="#86796c" stroke-width="0.4"/><circle cx="347.1" cy="264.1" r="2.1" fill="#ab9e8f" stroke="#86796c" stroke-width="0.4"/><circle cx="338.6" cy="265.0" r="1.7" fill="#ab9e8f" stroke="#86796c" stroke-width="0.4"/><circle cx="330.0" cy="269.6" r="2.2" fill="#ab9e8f" stroke="#86796c" stroke-width="0.4"/><circle cx="348.9" cy="265.5" r="1.8" fill="#ab9e8f" stroke="#86796c" stroke-width="0.4"/><circle cx="331.9" cy="268.5" r="2.1" fill="#ab9e8f" stroke="#86796c" stroke-width="0.4"/><circle cx="336.7" cy="266.3" r="1.5" fill="#ab9e8f" stroke="#86796c" stroke-width="0.4"/><circle cx="338.1" cy="269.8" r="1.6" fill="#ab9e8f" stroke="#86796c" stroke-width="0.4"/><circle cx="340.6" cy="268.2" r="0.7" fill="#cbbfb0"/><circle cx="337.3" cy="270.5" r="0.7" fill="#cbbfb0"/><circle cx="336.5" cy="264.4" r="0.7" fill="#cbbfb0"/><circle cx="338.6" cy="262.0" r="0.6" fill="#cbbfb0"/><circle cx="333.0" cy="270.8" r="0.7" fill="#cbbfb0"/><circle cx="330.1" cy="270.2" r="0.6" fill="#cbbfb0"/><circle cx="339.7" cy="262.9" r="0.5" fill="#cbbfb0"/><circle cx="345.6" cy="262.8" r="0.6" fill="#cbbfb0"/><circle cx="338.6" cy="267.9" r="0.6" fill="#cbbfb0"/><circle cx="347.8" cy="266.7" r="0.8" fill="#cbbfb0"/><circle cx="346.2" cy="263.5" r="0.6" fill="#cbbfb0"/><circle cx="329.5" cy="264.5" r="0.5" fill="#cbbfb0"/><circle cx="333.1" cy="268.0" r="0.5" fill="#cbbfb0"/><circle cx="341.4" cy="264.5" r="0.6" fill="#cbbfb0"/><circle cx="344.7" cy="265.3" r="0.6" fill="#cbbfb0"/><circle cx="337.3" cy="268.3" r="0.5" fill="#cbbfb0"/><circle cx="343.6" cy="268.7" r="0.5" fill="#cbbfb0"/><circle cx="343.9" cy="264.4" r="0.7" fill="#cbbfb0"/><circle cx="330.9" cy="269.7" r="0.8" fill="#cbbfb0"/><circle cx="347.4" cy="263.7" r="0.6" fill="#cbbfb0"/><circle cx="338.4" cy="268.8" r="0.6" fill="#cbbfb0"/><circle cx="343.5" cy="268.3" r="0.7" fill="#cbbfb0"/><circle cx="328.0" cy="266.4" r="0.7" fill="#cbbfb0"/><circle cx="346.8" cy="263.8" r="0.8" fill="#cbbfb0"/><circle cx="338.3" cy="264.7" r="0.6" fill="#cbbfb0"/><circle cx="329.7" cy="269.3" r="0.8" fill="#cbbfb0"/><circle cx="348.6" cy="265.2" r="0.6" fill="#cbbfb0"/><circle cx="331.6" cy="268.2" r="0.7" fill="#cbbfb0"/><circle cx="336.4" cy="266.0" r="0.5" fill="#cbbfb0"/><circle cx="337.8" cy="269.5" r="0.6" fill="#cbbfb0"/><ellipse cx="368.6" cy="270.8" rx="8.8" ry="4.0" transform="rotate(36.0 368.6 270.8)" fill="#a89c8e"/><circle cx="367.9" cy="266.0" r="2.0" fill="#ab9e8f" stroke="#86796c" stroke-width="0.4"/><circle cx="361.7" cy="266.3" r="1.8" fill="#ab9e8f" stroke="#86796c" stroke-width="0.4"/><circle cx="361.7" cy="265.9" r="1.5" fill="#ab9e8f" stroke="#86796c" stroke-width="0.4"/><circle cx="370.1" cy="266.6" r="1.6" fill="#ab9e8f" stroke="#86796c" stroke-width="0.4"/><circle cx="365.5" cy="272.6" r="1.6" fill="#ab9e8f" stroke="#86796c" stroke-width="0.4"/><circle cx="363.6" cy="268.7" r="2.2" fill="#ab9e8f" stroke="#86796c" stroke-width="0.4"/><circle cx="370.4" cy="270.8" r="2.2" fill="#ab9e8f" stroke="#86796c" stroke-width="0.4"/><circle cx="367.4" cy="265.5" r="1.6" fill="#ab9e8f" stroke="#86796c" stroke-width="0.4"/><circle cx="363.8" cy="271.2" r="1.6" fill="#ab9e8f" stroke="#86796c" stroke-width="0.4"/><circle cx="369.1" cy="272.8" r="1.8" fill="#ab9e8f" stroke="#86796c" stroke-width="0.4"/><circle cx="371.9" cy="267.8" r="1.5" fill="#ab9e8f" stroke="#86796c" stroke-width="0.4"/><circle cx="363.0" cy="268.9" r="1.8" fill="#ab9e8f" stroke="#86796c" stroke-width="0.4"/><circle cx="365.2" cy="269.4" r="1.8" fill="#ab9e8f" stroke="#86796c" stroke-width="0.4"/><circle cx="363.8" cy="270.9" r="2.0" fill="#ab9e8f" stroke="#86796c" stroke-width="0.4"/><circle cx="364.2" cy="268.5" r="1.9" fill="#ab9e8f" stroke="#86796c" stroke-width="0.4"/><circle cx="373.1" cy="276.9" r="1.7" fill="#ab9e8f" stroke="#86796c" stroke-width="0.4"/><circle cx="365.8" cy="272.0" r="1.6" fill="#ab9e8f" stroke="#86796c" stroke-width="0.4"/><circle cx="371.1" cy="266.9" r="2.0" fill="#ab9e8f" stroke="#86796c" stroke-width="0.4"/><circle cx="372.3" cy="274.4" r="2.1" fill="#ab9e8f" stroke="#86796c" stroke-width="0.4"/><circle cx="364.6" cy="270.3" r="1.9" fill="#ab9e8f" stroke="#86796c" stroke-width="0.4"/><circle cx="370.1" cy="271.3" r="2.1" fill="#ab9e8f" stroke="#86796c" stroke-width="0.4"/><circle cx="375.7" cy="275.6" r="2.0" fill="#ab9e8f" stroke="#86796c" stroke-width="0.4"/><circle cx="360.6" cy="267.5" r="2.0" fill="#ab9e8f" stroke="#86796c" stroke-width="0.4"/><circle cx="365.9" cy="267.4" r="2.0" fill="#ab9e8f" stroke="#86796c" stroke-width="0.4"/><circle cx="367.6" cy="265.7" r="0.7" fill="#cbbfb0"/><circle cx="361.4" cy="266.0" r="0.6" fill="#cbbfb0"/><circle cx="361.4" cy="265.6" r="0.5" fill="#cbbfb0"/><circle cx="369.8" cy="266.3" r="0.5" fill="#cbbfb0"/><circle cx="365.2" cy="272.3" r="0.6" fill="#cbbfb0"/><circle cx="363.3" cy="268.4" r="0.8" fill="#cbbfb0"/><circle cx="370.1" cy="270.5" r="0.8" fill="#cbbfb0"/><circle cx="367.1" cy="265.2" r="0.6" fill="#cbbfb0"/><circle cx="363.5" cy="270.9" r="0.6" fill="#cbbfb0"/><circle cx="368.8" cy="272.5" r="0.6" fill="#cbbfb0"/><circle cx="371.6" cy="267.5" r="0.5" fill="#cbbfb0"/><circle cx="362.7" cy="268.6" r="0.6" fill="#cbbfb0"/><circle cx="364.9" cy="269.1" r="0.6" fill="#cbbfb0"/><circle cx="363.5" cy="270.6" r="0.7" fill="#cbbfb0"/><circle cx="363.9" cy="268.2" r="0.7" fill="#cbbfb0"/><circle cx="372.8" cy="276.6" r="0.6" fill="#cbbfb0"/><circle cx="365.5" cy="271.7" r="0.6" fill="#cbbfb0"/><circle cx="370.8" cy="266.6" r="0.7" fill="#cbbfb0"/><circle cx="372.0" cy="274.1" r="0.7" fill="#cbbfb0"/><circle cx="364.3" cy="270.0" r="0.7" fill="#cbbfb0"/><circle cx="369.8" cy="271.0" r="0.7" fill="#cbbfb0"/><circle cx="375.4" cy="275.3" r="0.7" fill="#cbbfb0"/><circle cx="360.3" cy="267.2" r="0.7" fill="#cbbfb0"/><circle cx="365.6" cy="267.1" r="0.7" fill="#cbbfb0"/></g>
<g filter="url(#soft)"><path d="M345.7,255.3 C347.6,254.7 349.0,256.1 350.4,257.5 C351.8,256.1 353.2,254.7 355.1,255.3 C354.6,259.1 353.4,261.3 352.5,262.4 L352.2,266.2 L349.8,266.2 L349.5,262.4 C348.6,261.3 346.2,259.1 345.7,255.3 Z" fill="url(#orng)"/><path d="M354.7,255.3 C356.8,254.7 358.4,256.1 360.0,257.5 C361.6,256.1 363.2,254.7 365.3,255.3 C364.8,259.1 359.0,261.3 358.1,262.4 L357.6,266.2 L355.2,266.2 L354.7,262.4 C353.8,261.3 355.2,259.1 354.7,255.3 Z" fill="url(#orng)"/><path d="M348.6,267.6 l1.6,-2.6 l1.6,2.6 z M354.6,267.6 l1.6,-2.6 l1.6,2.6 z" fill="#2a56a6"/><path d="M349.2 253.0V248.3M351.1 253.0V248.3M349.2 253.0L346.8 255.5M351.1 253.0L353.6 255.5" stroke="#8a80cc" stroke-width="1.7" fill="none" stroke-linecap="round"/><path d="M359.2 252.9V247.9M361.2 252.9V247.9M359.2 252.9L356.6 255.5M361.2 252.9L363.8 255.5" stroke="#8a80cc" stroke-width="1.8" fill="none" stroke-linecap="round"/><circle cx="346.5" cy="249.5" r="1.3" fill="#f3d2e2" stroke="#cf4b8a" stroke-width="0.8"/><circle cx="355.2" cy="247.8" r="1.3" fill="#f3d2e2" stroke="#cf4b8a" stroke-width="0.8"/><circle cx="364.5" cy="249.8" r="1.3" fill="#f3d2e2" stroke="#cf4b8a" stroke-width="0.8"/><circle cx="366.3" cy="253.9" r="1.3" fill="#f3d2e2" stroke="#cf4b8a" stroke-width="0.8"/></g>
<g filter="url(#soft)"><circle cx="331.6" cy="295.3" r="9.2" fill="url(#vesg)"/><path d="M328.2 294.4 L331.9 298.7 L335.3 296.2" stroke="#dc7a26" stroke-width="2.5" fill="none" stroke-linejoin="round"/><path d="M328.2 293.5 l-1.8 -2.2 M332.5 293.2 l1.2 -2.4" stroke="#6f70c0" stroke-width="1.7"/><circle cx="335.6" cy="298.7" r="1.1" fill="#e48a98"/><circle cx="327.6" cy="299.3" r="0.9" fill="#f0a050"/><circle cx="342.3" cy="283.6" r="6.5" fill="url(#vesg)"/><path d="M339.9 283.0 L342.5 286.0 L344.9 284.2" stroke="#dc7a26" stroke-width="1.7" fill="none" stroke-linejoin="round"/><path d="M339.9 282.3 l-1.8 -2.2 M342.9 282.1 l1.2 -2.4" stroke="#6f70c0" stroke-width="1.2"/><circle cx="345.1" cy="286.0" r="0.8" fill="#e48a98"/><circle cx="339.5" cy="286.4" r="0.6" fill="#f0a050"/><circle cx="343.0" cy="306.3" r="7.0" fill="url(#vesg)"/><path d="M340.4 305.6 L343.2 308.9 L345.8 307.0" stroke="#dc7a26" stroke-width="1.9" fill="none" stroke-linejoin="round"/><path d="M340.4 304.9 l-1.8 -2.2 M343.7 304.7 l1.2 -2.4" stroke="#6f70c0" stroke-width="1.3"/><circle cx="346.0" cy="308.9" r="0.8" fill="#e48a98"/><circle cx="340.0" cy="309.3" r="0.7" fill="#f0a050"/></g>
<g filter="url(#soft)"><path d="M360.8,275.5 C363.5,283 358.5,292 349.8,294.8" stroke="#24365a" stroke-width="0.75" fill="none"/><path d="M351.6,293 L348.6,295.2 L351.9,296.6" stroke="#24365a" stroke-width="0.75" fill="none"/><path d="M351.8,306.8 C354,311.8 359.5,311.5 362.6,307.2" stroke="#24365a" stroke-width="0.75" fill="none"/><path d="M360.3,307.2 L363,306.6 L363,309.4" stroke="#24365a" stroke-width="0.75" fill="none"/></g>
<g filter="url(#soft)"><circle cx="365.2" cy="302.6" r="0.85" fill="#d97aa8"/><circle cx="366.8" cy="299.6" r="0.85" fill="#e46b95"/><circle cx="368.6" cy="301.9" r="0.85" fill="#e46b95"/><circle cx="370.4" cy="298.6" r="0.85" fill="#c98ac0"/><circle cx="372.0" cy="301.4" r="0.85" fill="#e46b95"/><circle cx="373.9" cy="299.4" r="0.85" fill="#e46b95"/><circle cx="375.4" cy="302.1" r="0.85" fill="#e46b95"/><circle cx="369.5" cy="304.0" r="0.85" fill="#d97aa8"/><circle cx="371.8" cy="303.9" r="0.85" fill="#e46b95"/></g>
<g filter="url(#soft)"><path d="M328.6,229.6 C331.2,229.0 333.2,230.4 335.2,231.8 C337.2,230.4 339.2,229.0 341.8,229.6 C341.1,235.0 338.5,238.1 337.3,239.6 L336.1,245.0 L334.3,245.0 L333.1,239.6 C331.9,238.1 329.3,235.0 328.6,229.6 Z" fill="url(#orng)"/><path d="M333.8,218.8 V228.4 L329.4,231.2 M336.4,218.8 V228.4 L340.8,231.2" stroke="#6e6cc0" stroke-width="1.5" fill="none"/><circle cx="329.7" cy="221.3" r="1.4" fill="#f3d2e2" stroke="#cf4b8a" stroke-width="0.8"/><circle cx="327.8" cy="227.4" r="1.8" fill="#f3d2e2" stroke="#cf4b8a" stroke-width="0.8"/><circle cx="340.7" cy="226.0" r="1.6" fill="#f3d2e2" stroke="#cf4b8a" stroke-width="0.8"/><circle cx="331.2" cy="229.6" r="1.2" fill="#f3d2e2" stroke="#cf4b8a" stroke-width="0.8"/><circle cx="338.8" cy="229.3" r="1.2" fill="#f3d2e2" stroke="#cf4b8a" stroke-width="0.8"/></g>
<g filter="url(#soft)"><path d="M371.6 228.6 l2.2 3.3 h-4.4 z" fill="#2f5ea8"/><path d="M369.0 233.2 l2.2 3.3 h-4.4 z" fill="#2f5ea8"/><path d="M374.7 233.2 l2.2 3.3 h-4.4 z" fill="#2f5ea8"/></g>
<text x="339.2" y="223.1" font-size="5.5" fill="#333">anti-HER2 ADC</text>
<text x="378" y="232.3" font-size="5.5" fill="#333">Irreversible kinase inhibitor</text>
<text x="325.8" y="239.9" font-size="5.5" text-anchor="end" fill="#333">HER2</text>
<text x="326.5" y="246.7" font-size="5.5" text-anchor="end" fill="#333">mutant/amplified</text>
<text x="356.1" y="328.3" font-size="5.5" text-anchor="middle" fill="#333">Increased internalization</text>
<text x="467.6" y="328.8" font-size="5.5" text-anchor="middle" fill="#333">ADC switching</text>
<text x="435.7" y="295" font-size="5.5" text-anchor="middle" fill="#333">T-DM1</text>
<text x="497.1" y="296" font-size="5.5" text-anchor="middle" fill="#333">T-DXd</text>
<g filter="url(#soft)"><path d="M433.8 264.6V281.6L424.2 287.2" stroke="#7076c0" stroke-width="2.3" fill="none" stroke-linejoin="round"/><path d="M438.4 264.6V281.6L447.8 287.2" stroke="#7076c0" stroke-width="2.3" fill="none" stroke-linejoin="round"/><path d="M431.5 281.0L423.4 284.8" stroke="#7076c0" stroke-width="1.7"/><path d="M440.7 281.0L448.6 284.8" stroke="#7076c0" stroke-width="1.7"/></g>
<circle cx="427.1" cy="268.8" r="3.45" fill="url(#redg)" filter="url(#soft)"/>
<circle cx="422.5" cy="278.6" r="3.45" fill="url(#redg)" filter="url(#soft)"/>
<circle cx="446.6" cy="278.5" r="3.45" fill="url(#redg)" filter="url(#soft)"/>
<g filter="url(#soft)"><path d="M496.2 264.8V281.4L487.0 287.8" stroke="#7076c0" stroke-width="2.3" fill="none" stroke-linejoin="round"/><path d="M501.3 264.8V281.4L509.8 287.8" stroke="#7076c0" stroke-width="2.3" fill="none" stroke-linejoin="round"/><path d="M493.9 280.8L486.2 285.4" stroke="#7076c0" stroke-width="1.7"/><path d="M503.6 280.8L510.6 285.4" stroke="#7076c0" stroke-width="1.7"/></g>
<g filter="url(#soft)"><circle cx="491.4" cy="262.7" r="3.0" fill="url(#grng)"/><circle cx="487.4" cy="269.2" r="4.0" fill="url(#grng)"/><circle cx="502.2" cy="262.7" r="3.0" fill="url(#grng)"/><circle cx="505.6" cy="270.1" r="4.0" fill="url(#grng)"/><circle cx="484.2" cy="278.6" r="4.4" fill="url(#grng)"/><circle cx="508.6" cy="278.6" r="4.4" fill="url(#grng)"/><circle cx="481.6" cy="284.2" r="2.9" fill="url(#grng)"/><circle cx="513.6" cy="283.8" r="2.8" fill="url(#grng)"/></g>
<g filter="url(#soft)"><path d="M453.2,272.6 C455.5,267 467,263.5 473.3,268.6" stroke="#eb9a66" stroke-width="1.6" fill="none" stroke-linecap="round"/><path d="M471.2,267.4 L476,272.4 L474.6,266 Z" fill="#e07448"/><path d="M475.6,277 C473,283 460,285.5 455,279.8" stroke="#eb9a66" stroke-width="1.6" fill="none" stroke-linecap="round"/><path d="M457,281.3 L452.6,277.4 L453.6,283.4 Z" fill="#e07448"/></g>
</svg>
</body></html>
